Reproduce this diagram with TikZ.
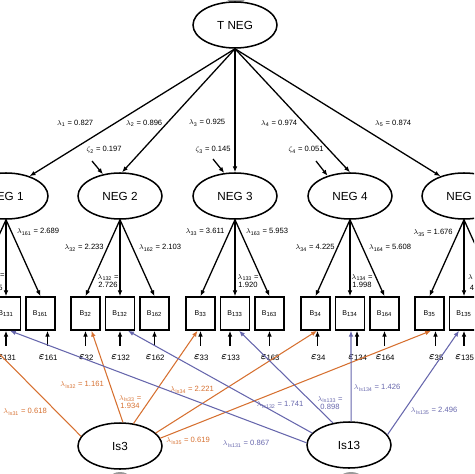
\documentclass[tikz,border=0pt]{standalone}
\usepackage{amsmath}
\usepackage{amssymb}
\usepackage{fontspec}
\setmainfont{Liberation Sans}
\usetikzlibrary{positioning,shapes.geometric,arrows.meta,calc}
\definecolor{isorange}{RGB}{214,112,48}
\definecolor{isblue}{RGB}{102,102,172}
\newcommand{\lam}[2]{$\lambda_{\text{#1}}$ = #2}
\newcommand{\err}[1]{$\boldsymbol{\varepsilon}_{\text{#1}}$}

\begin{document}
\begin{tikzpicture}[
  x=0.03cm, y=-0.03cm,
  latent/.style={draw,ellipse,line width=1.3pt,minimum width=25.2mm,minimum height=13.8mm,inner sep=0pt,font=\fontsize{10}{12}\selectfont},
  indic/.style={draw,rectangle,line width=1.3pt,minimum width=8.7mm,minimum height=9.9mm,inner sep=0pt,font=\fontsize{6}{7}\selectfont},
  coef/.style={font=\fontsize{6.5}{7.5}\selectfont,inner sep=0.5pt,align=center},
  errlab/.style={font=\fontsize{9.5}{10}\selectfont,inner sep=0pt},
  loadarrow/.style={-{Latex[length=5pt,width=4pt]},line width=1.1pt},
  isarrow/.style={-{Latex[length=5pt,width=4pt]},line width=0.9pt}
  ]
  \useasboundingbox (0,0) rectangle (474,474);
  \clip (0,0) rectangle (474,474);

  % variance marks cut by the frame
  \fill[gray!80] (236,-1) ellipse [x radius=9, y radius=4];
  \fill[gray!80] (120,477) ellipse [x radius=9, y radius=5];
  \fill[gray!80] (351,477) ellipse [x radius=10, y radius=5];

  % factors
  \node[latent] (tneg) at (235,25) {T NEG};
  \foreach \g/\cx in {1/6,2/120,3/235,4/350,5/464}
    \node[latent] (neg\g) at (\cx,196) {NEG \g};
  \node[latent] (is3) at (120,446) {Is3};
  \node[latent] (is13) at (349,445) {Is13};

  \draw[loadarrow] (tneg.south) -- (neg1.40);
  \draw[loadarrow] (tneg.south) -- (neg2.85);
  \draw[loadarrow] (tneg.south) -- (neg3.north);
  \draw[loadarrow] (tneg.south) -- (neg4.north);
  \draw[loadarrow] (tneg.south) -- (neg5.140);

  \node[coef] (l1) at (75,123) {\lam{1}{0.827}};
  \node[coef] (l2) at (144,123) {\lam{2}{0.896}};
  \node[coef] (l3) at (207,123) {\lam{3}{0.925}};
  \node[coef] (l4) at (279,123) {\lam{4}{0.974}};
  \node[coef] (l5) at (393,123) {\lam{5}{0.874}};

  % disturbances
  \node[coef] (z2) at (104,150) {$\zeta_{\text{2}}$ = 0.197};
  \node[coef] (z3) at (213,150) {$\zeta_{\text{3}}$ = 0.145};
  \node[coef] (z4) at (306,150) {$\zeta_{\text{4}}$ = 0.051};
  \coordinate (z2s) at (92,161);
  \coordinate (z3s) at (213,159);
  \coordinate (z4s) at (316,161);
  \draw[loadarrow] (z2s) -- (neg2.128);
  \draw[loadarrow] (z3s) -- (neg3.115);
  \draw[loadarrow] (z4s) -- (neg4.138);

  % indicators
  \foreach \g/\cx in {1/6,2/120,3/235,4/350,5/464}{
    \node[indic] (b3\g) at (\cx-34.5,313.5) {B$_{\text{3\g}}$};
    \node[indic] (b13\g) at (\cx,313.5) {B$_{\text{13\g}}$};
    \node[indic] (b16\g) at (\cx+34.5,313.5) {B$_{\text{16\g}}$};
    \draw[loadarrow] (neg\g.south) -- (b3\g.north);
    \draw[loadarrow] (neg\g.south) -- (b13\g.north);
    \draw[loadarrow] (neg\g.south) -- (b16\g.north);
  }

  \node[coef] (l161) at (38,232) {\lam{161}{2.689}};
  \node[coef] (l32) at (84,248) {\lam{32}{2.233}};
  \node[coef] (l162) at (160,248) {\lam{162}{2.103}};
  \node[coef] (l33) at (205,232) {\lam{33}{3.611}};
  \node[coef] (l163) at (267,232) {\lam{163}{5.953}};
  \node[coef] (l34) at (315,248) {\lam{34}{4.225}};
  \node[coef] (l164) at (390,248) {\lam{164}{5.608}};
  \node[coef] (l35) at (433,233) {\lam{35}{1.676}};
  \node[coef] (l132) at (108,281) {$\lambda_{\text{132}}$ =\\2.726};
  \node[coef] (l133) at (248,281) {$\lambda_{\text{133}}$ =\\1.920};
  \node[coef] (l134) at (362,281) {$\lambda_{\text{134}}$ =\\1.998};
  \node[coef,anchor=east] (l131a) at (5.5,276) {=};
  \node[coef,anchor=east] (l131b) at (3.5,288) {5};
  \node[coef,anchor=west] (l135a) at (467,277) {$\lambda$};
  \node[coef,anchor=west] (l135b) at (469,288) {4};

  % errors
  \foreach \b/\d in {31/0,131/0,161/7,32/0,132/0,162/0,33/0,133/-5,163/0,34/2,134/7,164/0,35/6,135/0,165/0}{
    \coordinate (s\b) at ($(b\b.south)+(\d,15)$);
    \node[errlab] (e\b) at ($(s\b)+(1,12)$) {\err{\b}};
    \draw[loadarrow] (s\b) -- (s\b |- b\b.south);
  }

  % Is3 and Is13 paths
  \foreach \b/\a/\d in {31/166/5,32/83/6,33/59/-3,34/20/1.5,35/11/1.5}
    \draw[isarrow,isorange] (is3.\a) -- ($(b\b.south)+(\d,0)$);
  \foreach \b/\a/\d in {131/177/4,132/162/8,133/126/4,134/85/1,135/15/-5}
    \draw[isarrow,isblue] (is13.\a) -- ($(b\b.south)+(\d,0)$);

  \node[coef,text=isorange] (li31) at (25,412) {\lam{Is31}{0.618}};
  \node[coef,text=isorange] (li32) at (82,385) {\lam{Is32}{1.161}};
  \node[coef,text=isorange] (li33) at (130,402) {$\lambda_{\text{Is33}}$ =\\1.934};
  \node[coef,text=isorange] (li34) at (192,390) {\lam{Is34}{2.221}};
  \node[coef,text=isorange] (li35) at (188,441) {\lam{Is35}{0.619}};
  \node[coef,text=isblue] (li131) at (246,444) {\lam{Is131}{0.867}};
  \node[coef,text=isblue] (li132) at (280,405) {\lam{Is132}{1.741}};
  \node[coef,text=isblue] (li133) at (330,403) {$\lambda_{\text{Is133}}$ =\\0.898};
  \node[coef,text=isblue] (li134) at (377,388) {\lam{Is134}{1.426}};
  \node[coef,text=isblue] (li135) at (434,411) {\lam{Is135}{2.496}};
\end{tikzpicture}
\end{document}
